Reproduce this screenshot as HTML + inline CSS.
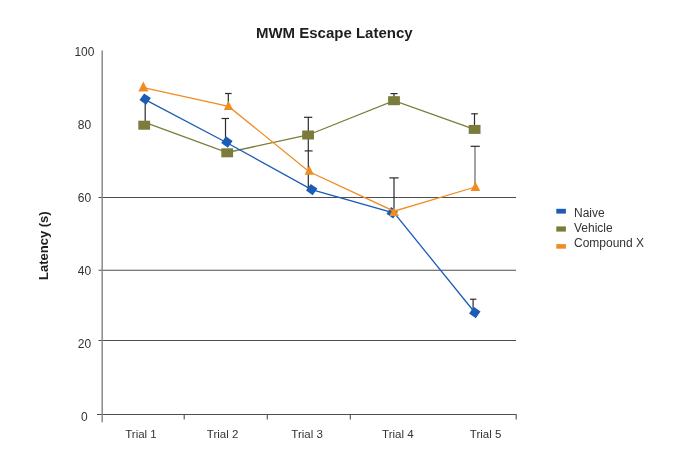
<!DOCTYPE html>
<html><head><meta charset="utf-8">
<style>
html,body{margin:0;padding:0;background:#fff;width:698px;height:458px;overflow:hidden}
svg{display:block;position:absolute;left:0;top:0}
text{font-family:"Liberation Sans",sans-serif}
svg{will-change:transform}
</style></head>
<body>
<svg width="698" height="458" viewBox="0 0 698 458">
<!-- title -->
<text x="334.3" y="38.2" font-size="15" font-weight="bold" fill="#1e1e1e" text-anchor="middle">MWM Escape Latency</text>
<!-- y axis title -->
<text transform="translate(48.2,245.7) rotate(-90)" font-size="13" font-weight="bold" fill="#1e1e1e" text-anchor="middle">Latency (s)</text>
<!-- y labels -->
<g font-size="12" fill="#333" text-anchor="middle">
<text x="84.4" y="56.1">100</text>
<text x="84.4" y="129.1">80</text>
<text x="84.4" y="201.8">60</text>
<text x="84.4" y="275.3">40</text>
<text x="84.4" y="348.0">20</text>
<text x="84.4" y="421.2">0</text>
</g>
<!-- gridlines -->
<g stroke="#4e4e4e" stroke-width="1.1">
<line x1="98.5" y1="197.5" x2="516" y2="197.5"/>
<line x1="98.5" y1="270.2" x2="516" y2="270.2"/>
<line x1="98.5" y1="340.5" x2="516" y2="340.5"/>
<line x1="97" y1="414.5" x2="516.5" y2="414.5"/>
<line x1="184.2" y1="414.5" x2="184.2" y2="419.5"/>
<line x1="267.3" y1="414.5" x2="267.3" y2="419.5"/>
<line x1="350.3" y1="414.5" x2="350.3" y2="419.5"/>
<line x1="516.2" y1="414.5" x2="516.2" y2="419.5"/>
</g>
<line x1="102.2" y1="50.4" x2="102.2" y2="422.3" stroke="#8a8a8a" stroke-width="1.5"/>
<!-- x labels -->
<g font-size="11.5" fill="#333" text-anchor="middle">
<text x="141" y="438.4">Trial 1</text>
<text x="222.6" y="438.4">Trial 2</text>
<text x="307.1" y="438.4">Trial 3</text>
<text x="397.8" y="438.4">Trial 4</text>
<text x="485.6" y="438.4">Trial 5</text>
</g>
<!-- error bars -->
<g stroke="#2b2b2b" stroke-width="1.2" fill="none">
<line x1="145.2" y1="100" x2="145.2" y2="125"/>
<line x1="228.3" y1="93.5" x2="228.3" y2="106"/>
<line x1="225" y1="93.5" x2="231.6" y2="93.5"/>
<line x1="225.5" y1="118.5" x2="225.5" y2="142"/>
<line x1="221.6" y1="118.5" x2="229" y2="118.5"/>
<line x1="308.3" y1="117.3" x2="308.3" y2="189"/>
<line x1="304" y1="117.3" x2="312.3" y2="117.3"/>
<line x1="304.6" y1="150.9" x2="312.6" y2="150.9"/>
<line x1="394" y1="93.6" x2="394" y2="100"/>
<line x1="390.5" y1="93.6" x2="397.6" y2="93.6"/>
<line x1="394" y1="177.9" x2="394" y2="210"/>
<line x1="389.4" y1="177.9" x2="398.7" y2="177.9"/>
<line x1="474.5" y1="113.8" x2="474.5" y2="129"/>
<line x1="471.2" y1="113.8" x2="477.8" y2="113.8"/>
<line x1="475" y1="146.3" x2="475" y2="187" stroke="#666"/>
<line x1="470.6" y1="146.3" x2="479.8" y2="146.3"/>
<line x1="473.1" y1="299.2" x2="473.1" y2="312"/>
<line x1="470" y1="299.2" x2="476.4" y2="299.2"/>
</g>
<!-- Vehicle line -->
<polyline fill="none" stroke="#7b7b3b" stroke-width="1.3" points="144.2,122.2 227.2,152.5 308.1,135 394,100.7 474.6,129.4"/>
<g fill="#7b7b3b">
<rect x="138.3" y="120.7" width="11.8" height="9"/>
<rect x="221.3" y="148.3" width="11.8" height="9"/>
<rect x="302.2" y="130.5" width="11.8" height="9"/>
<rect x="388.1" y="96.2" width="11.8" height="9"/>
<rect x="468.7" y="124.9" width="11.8" height="9"/>
</g>
<!-- Naive line -->
<polyline fill="none" stroke="#1b5db5" stroke-width="1.3" points="145.15,99.6 226.9,142.8 311.7,189.6 394.3,213.1 474.8,312.5"/>
<g fill="#1b5db5">
<rect x="-4.1" y="-4.1" width="8.2" height="8.2" transform="translate(145.15,99.1) rotate(35)"/>
<rect x="-4.1" y="-4.1" width="8.2" height="8.2" transform="translate(226.9,142) rotate(35)"/>
<rect x="-4.1" y="-4.1" width="8.2" height="8.2" transform="translate(311.7,189.6) rotate(35)"/>
<rect x="-4.1" y="-4.1" width="8.2" height="8.2" transform="translate(392.2,212.8) rotate(35)"/>
<rect x="-4.1" y="-4.1" width="8.2" height="8.2" transform="translate(474.8,312.5) rotate(35)"/>
</g>
<!-- Compound X line -->
<polyline fill="none" stroke="#f08c24" stroke-width="1.3" points="143.5,87.7 228.6,106.4 309.2,171.8 394,211.2 475.4,187"/>
<g fill="#f08c24">
<path d="M143.3,81.5 L148.5,91.5 L138.3,91.5Z"/>
<path d="M228.4,100.9 L233.2,110.1 L223.8,110.1Z"/>
<path d="M309.3,165.6 L313.9,174.8 L304.6,174.8Z"/>
<path d="M394,207.3 L398.9,215.9 L389.2,215.9Z"/>
<path d="M475.4,181.6 L480.2,191 L470.6,191Z"/>
</g>
<!-- legend -->
<rect x="556.3" y="208.8" width="9.6" height="4.8" fill="#1b5db5"/>
<rect x="556.3" y="226.4" width="9.6" height="5.2" fill="#7b7b3b"/>
<rect x="556.3" y="244.1" width="9.6" height="4.6" fill="#f08c24"/>
<g font-size="12" fill="#333">
<text x="574" y="216.5">Naive</text>
<text x="574" y="232.2">Vehicle</text>
<text x="574" y="246.9">Compound X</text>
</g>
</svg>
</body></html>
